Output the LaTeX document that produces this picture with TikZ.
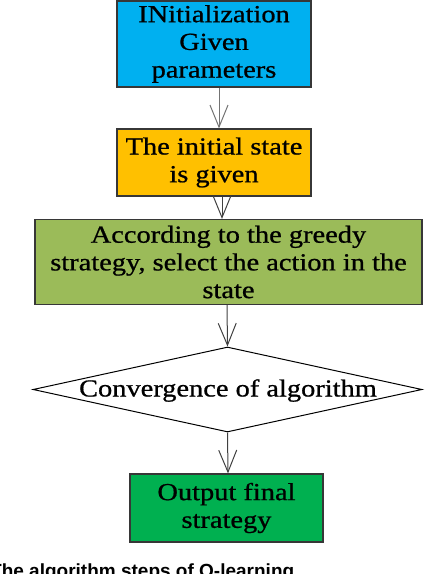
\documentclass[tikz,border=0pt]{standalone}
\usepackage{fontspec}
\setmainfont[FakeStretch=1.16,FakeBold=0.8]{Liberation Serif}
\newfontfamily\capfont{Liberation Sans}
\usetikzlibrary{arrows.meta,shapes.geometric}
\definecolor{cblue}{RGB}{0,176,240}
\definecolor{corange}{RGB}{255,192,0}
\definecolor{colive}{RGB}{155,187,89}
\definecolor{cgreen}{RGB}{0,176,80}
\definecolor{cborder}{RGB}{55,55,55}
\begin{document}
\begin{tikzpicture}[x=1pt,y=-1pt,
  boxfont/.style={font=\fontsize{24.5}{27.7}\selectfont},
  boxstyle/.style={draw=cborder, line width=1.2pt, rectangle, inner sep=0pt, align=center, boxfont},
  flow/.style={draw=#1, line width=1pt, -{Straight Barb[length=22pt,width=18pt]}},
  flow/.default={black!75}]
\clip (0,0) rectangle (424,574);
\node[boxstyle, fill=cblue, minimum width=194pt, minimum height=86pt] (b1) at (214,44)
  {INitialization\\Given\\parameters};
\node[boxstyle, fill=corange, minimum width=194pt, minimum height=67pt] (b2) at (214,162.5)
  {The initial state\\is given};
\node[boxstyle, fill=colive, minimum width=387pt, minimum height=85pt] (b3) at (228.5,262)
  {According to the greedy\\strategy, select the action in the\\state};
\node[diamond, draw=black, line width=1pt, aspect=4.58, minimum width=389pt, minimum height=85pt, inner sep=0pt] (d) at (227.5,389.5) {};
\node[boxfont, inner sep=0pt, anchor=base] (dt) at (228,396.5) {Convergence of algorithm};
\node[boxstyle, fill=cgreen, minimum width=193pt, minimum height=68pt] (b5) at (226.5,508)
  {Output final\\strategy};
\node[anchor=base west, inner sep=0pt, font=\capfont\bfseries\fontsize{19}{22}\selectfont] (cap) at (-10,577)
  {The algorithm steps of Q-learning};
\draw[flow=black!55] ([xshift=5pt]b1.south) -- ([xshift=5pt]b2.north);
\draw[flow] ([xshift=8pt]b2.south) -- ([xshift=-6.5pt]b3.north);
\draw[flow] ([xshift=-1.5pt]b3.south) -- (d.north);
\draw[flow] (d.south) -- ([xshift=1.5pt]b5.north);
\end{tikzpicture}
\end{document}
